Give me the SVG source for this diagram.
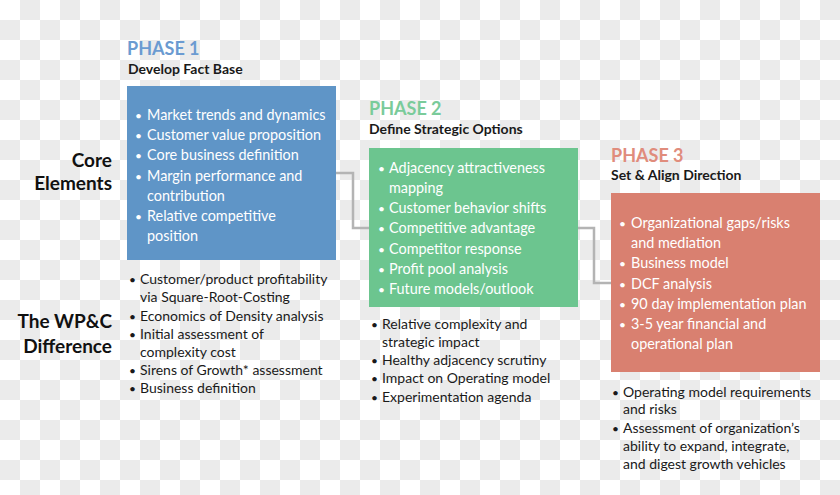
<svg xmlns="http://www.w3.org/2000/svg" width="840" height="495" viewBox="0 0 840 495">
<defs>
<pattern id="checker" x="0" y="0" width="40" height="40" patternUnits="userSpaceOnUse">
<rect width="40" height="40" fill="#ffffff"/>
<rect x="20" y="0" width="20" height="20" fill="#ebebeb"/>
<rect x="0" y="20" width="20" height="20" fill="#ebebeb"/>
</pattern>
</defs>
<style>
text{font-family:Lato,"Liberation Sans",sans-serif;}
.phase{font-size:18px;font-weight:bold;}
.sub{font-size:14px;font-weight:bold;fill:#1a1a1a;}
.side{font-size:19px;font-weight:bold;fill:#111;text-anchor:end;}
.in{font-size:14.4px;fill:#ffffff;}
.out{font-size:14px;fill:#1a1a1a;}
.b{font-size:12px;}
.conn{fill:none;stroke:#b4b4b4;stroke-width:2.5;}
</style>
<rect width="840" height="495" fill="url(#checker)"/>

<g id="connectors">
<polyline class="conn" points="336,173 353,173 353,228 369,228"/>
<polyline class="conn" points="578,228 594,228 594,283 611,283"/>
</g>

<g id="label-core">
<text class="side" x="112" y="167">Core</text>
<text class="side" x="112" y="190">Elements</text>
</g>
<g id="label-difference">
<text class="side" x="112" y="328">The WP&amp;C</text>
<text class="side" x="112" y="353">Difference</text>
</g>

<g id="phase1">
<text class="phase" x="127" y="55" fill="#6b9bd1">PHASE 1</text>
<text class="sub" x="128" y="74">Develop Fact Base</text>
<rect x="127" y="86" width="209" height="174" fill="#5f95c7"/>
<g class="in">
<text class="b" x="135" y="120">•</text><text x="147" y="120">Market trends and dynamics</text>
<text class="b" x="135" y="140">•</text><text x="147" y="140">Customer value proposition</text>
<text class="b" x="135" y="160">•</text><text x="147" y="160">Core business definition</text>
<text class="b" x="135" y="181">•</text><text x="147" y="181">Margin performance and</text>
<text x="147" y="201">contribution</text>
<text class="b" x="135" y="221">•</text><text x="147" y="221">Relative competitive</text>
<text x="147" y="241">position</text>
</g>
</g>

<g id="notes1" class="out">
<text class="b" x="129" y="284">•</text><text x="140" y="284">Customer/product profitability</text>
<text x="140" y="302">via Square-Root-Costing</text>
<text class="b" x="129" y="321">•</text><text x="140" y="321">Economics of Density analysis</text>
<text class="b" x="129" y="339">•</text><text x="140" y="339">Initial assessment of</text>
<text x="140" y="357">complexity cost</text>
<text class="b" x="129" y="375">•</text><text x="140" y="375">Sirens of Growth* assessment</text>
<text class="b" x="129" y="393">•</text><text x="140" y="393">Business definition</text>
</g>

<g id="phase2">
<text class="phase" x="369" y="115" fill="#7acb9a">PHASE 2</text>
<text class="sub" x="369" y="134">Define Strategic Options</text>
<rect x="369" y="148" width="209" height="159" fill="#6cc58f"/>
<g class="in">
<text class="b" x="378" y="173">•</text><text x="389" y="173">Adjacency attractiveness</text>
<text x="389" y="193">mapping</text>
<text class="b" x="378" y="213">•</text><text x="389" y="213">Customer behavior shifts</text>
<text class="b" x="378" y="233">•</text><text x="389" y="233">Competitive advantage</text>
<text class="b" x="378" y="254">•</text><text x="389" y="254">Competitor response</text>
<text class="b" x="378" y="274">•</text><text x="389" y="274">Profit pool analysis</text>
<text class="b" x="378" y="294">•</text><text x="389" y="294">Future models/outlook</text>
</g>
</g>

<g id="notes2" class="out">
<text class="b" x="371" y="329">•</text><text x="382" y="329">Relative complexity and</text>
<text x="382" y="347">strategic impact</text>
<text class="b" x="371" y="365">•</text><text x="382" y="365">Healthy adjacency scrutiny</text>
<text class="b" x="371" y="383">•</text><text x="382" y="383">Impact on Operating model</text>
<text class="b" x="371" y="402">•</text><text x="382" y="402">Experimentation agenda</text>
</g>

<g id="phase3">
<text class="phase" x="611" y="162" fill="#e08c7c">PHASE 3</text>
<text class="sub" x="611" y="180">Set &amp; Align Direction</text>
<rect x="611" y="193" width="209" height="179" fill="#d98070"/>
<g class="in">
<text class="b" x="619" y="228">•</text><text x="631" y="228">Organizational gaps/risks</text>
<text x="631" y="248">and mediation</text>
<text class="b" x="619" y="268">•</text><text x="631" y="268">Business model</text>
<text class="b" x="619" y="289">•</text><text x="631" y="289">DCF analysis</text>
<text class="b" x="619" y="309">•</text><text x="631" y="309">90 day implementation plan</text>
<text class="b" x="619" y="329">•</text><text x="631" y="329">3-5 year financial and</text>
<text x="631" y="349">operational plan</text>
</g>
</g>

<g id="notes3" class="out">
<text class="b" x="612" y="397">•</text><text x="623" y="397">Operating model requirements</text>
<text x="623" y="414">and risks</text>
<text class="b" x="612" y="433">•</text><text x="623" y="433">Assessment of organization’s</text>
<text x="623" y="451">ability to expand, integrate,</text>
<text x="623" y="469">and digest growth vehicles</text>
</g>
</svg>
